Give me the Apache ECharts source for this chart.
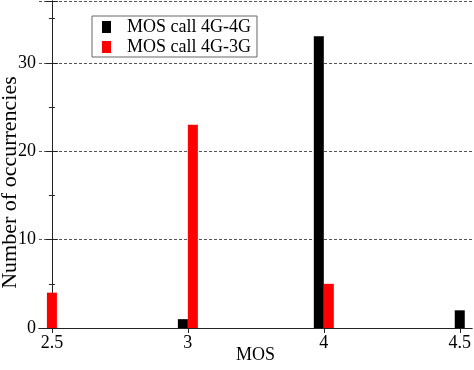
<!DOCTYPE html>
<html>
<head>
<meta charset="utf-8">
<script src="https://cdn.jsdelivr.net/npm/echarts@6/dist/echarts.min.js"></script>
<style>
html, body { margin: 0; padding: 0; background: #fff; }
#chart { width: 474px; height: 370px; }
</style>
</head>
<body>
<div id="chart"></div>
<script>
// MOS categories and occurrence counts
var mosLabels = ['2.5', '3', '4', '4.5'];
var call4G4G = [0, 1, 33, 2];
var call4G3G = [4, 23, 5, 0];
var yTicks = [0, 10, 20, 30];

var names = ['MOS call 4G-4G', 'MOS call 4G-3G'];
var colors = ['#000000', '#ff0000'];
var serif = 'Liberation Serif';

// bars sharing a category sit side by side, a lone bar sits on the tick
var pairBlack = [], pairRed = [], solo = [];
mosLabels.forEach(function (m, i) {
    var a = call4G4G[i], b = call4G3G[i];
    if (a > 0 && b > 0) {
        pairBlack.push([i, a]);
        pairRed.push([i, b]);
    } else if (a > 0) {
        solo.push({ value: [i, a], itemStyle: { color: colors[0] } });
    } else if (b > 0) {
        solo.push({ value: [i, b], itemStyle: { color: colors[1] } });
    }
});

var idx = mosLabels.map(function (m, i) { return i; });
var xMin = -0.095, xMax = 3.09;

var myChart = echarts.init(document.getElementById('chart'));

var option = {
    animation: false,
    backgroundColor: '#fff',
    textStyle: { fontFamily: serif },
    grid: { left: 39, right: 2, top: 1, bottom: 42, outerBoundsMode: 'none', containLabel: false },
    legend: {
        data: names,
        orient: 'vertical',
        left: 92,
        top: 16,
        padding: [2, 6, 1, 10],
        itemGap: 2,
        itemWidth: 9,
        itemHeight: 12,
        icon: 'rect',
        borderColor: '#666',
        borderWidth: 1,
        textStyle: { fontFamily: serif, fontSize: 18, lineHeight: 16, color: '#000', padding: [0, 0, 0, 11] }
    },
    xAxis: [
        {
            type: 'value', position: 'bottom', min: xMin, max: xMax,
            name: 'MOS', nameLocation: 'middle', nameGap: 18, nameMoveOverlap: false,
            nameTextStyle: { fontFamily: serif, fontSize: 18, color: '#000', verticalAlign: 'top' },
            axisLine: { lineStyle: { color: '#222' } },
            axisTick: { customValues: idx, inside: true, length: 5, lineStyle: { color: '#222' } },
            axisLabel: {
                customValues: idx, fontFamily: serif, fontSize: 18, color: '#000', margin: 6,
                formatter: function (v) { return mosLabels[Math.round(v)]; }
            },
            splitLine: { show: false }
        },
        {
            type: 'value', position: 'top', min: xMin, max: xMax,
            axisLine: { lineStyle: { color: '#222' } },
            axisTick: { customValues: idx, inside: true, length: 5, lineStyle: { color: '#222' } },
            axisLabel: { show: false },
            splitLine: { show: false }
        }
    ],
    yAxis: [
        {
            type: 'value', min: 0, max: 37, interval: 10,
            name: 'Number of occurrencies', nameLocation: 'middle', nameGap: 18, nameRotate: 90,
            nameMoveOverlap: false,
            nameTextStyle: { fontFamily: serif, fontSize: 22, color: '#000', padding: [0, 36, 0, 0] },
            axisLine: { show: true, lineStyle: { color: '#222' } },
            axisTick: { inside: true, length: 6, lineStyle: { color: '#222' } },
            minorTick: { show: true, splitNumber: 2, length: 3, lineStyle: { color: '#222' } },
            axisLabel: {
                fontFamily: serif, fontSize: 18, color: '#000', margin: 3, showMaxLabel: false,
                formatter: function (v) { return yTicks.indexOf(v) >= 0 ? String(v) : ''; }
            },
            splitLine: { show: true, lineStyle: { color: '#555', type: [3, 2], width: 1 } }
        },
        {
            type: 'value', position: 'right', min: 0, max: 37, interval: 10,
            axisLine: { show: true, lineStyle: { color: '#222' } },
            axisTick: { inside: true, length: 6, lineStyle: { color: '#222' } },
            minorTick: { show: true, splitNumber: 2, length: 3, lineStyle: { color: '#222' } },
            axisLabel: { show: false },
            splitLine: { show: false }
        }
    ],
    series: [
        { name: names[0], type: 'bar', xAxisIndex: 0, yAxisIndex: 0, data: pairBlack,
          barWidth: 10, barGap: '0%', itemStyle: { color: colors[0] } },
        { name: names[1], type: 'bar', xAxisIndex: 0, yAxisIndex: 0, data: pairRed,
          barWidth: 10, barGap: '0%', itemStyle: { color: colors[1] } },
        { name: 'single', type: 'bar', xAxisIndex: 1, yAxisIndex: 0, data: solo, barWidth: 10 }
    ]
};

myChart.setOption(option);
</script>
</body>
</html>
